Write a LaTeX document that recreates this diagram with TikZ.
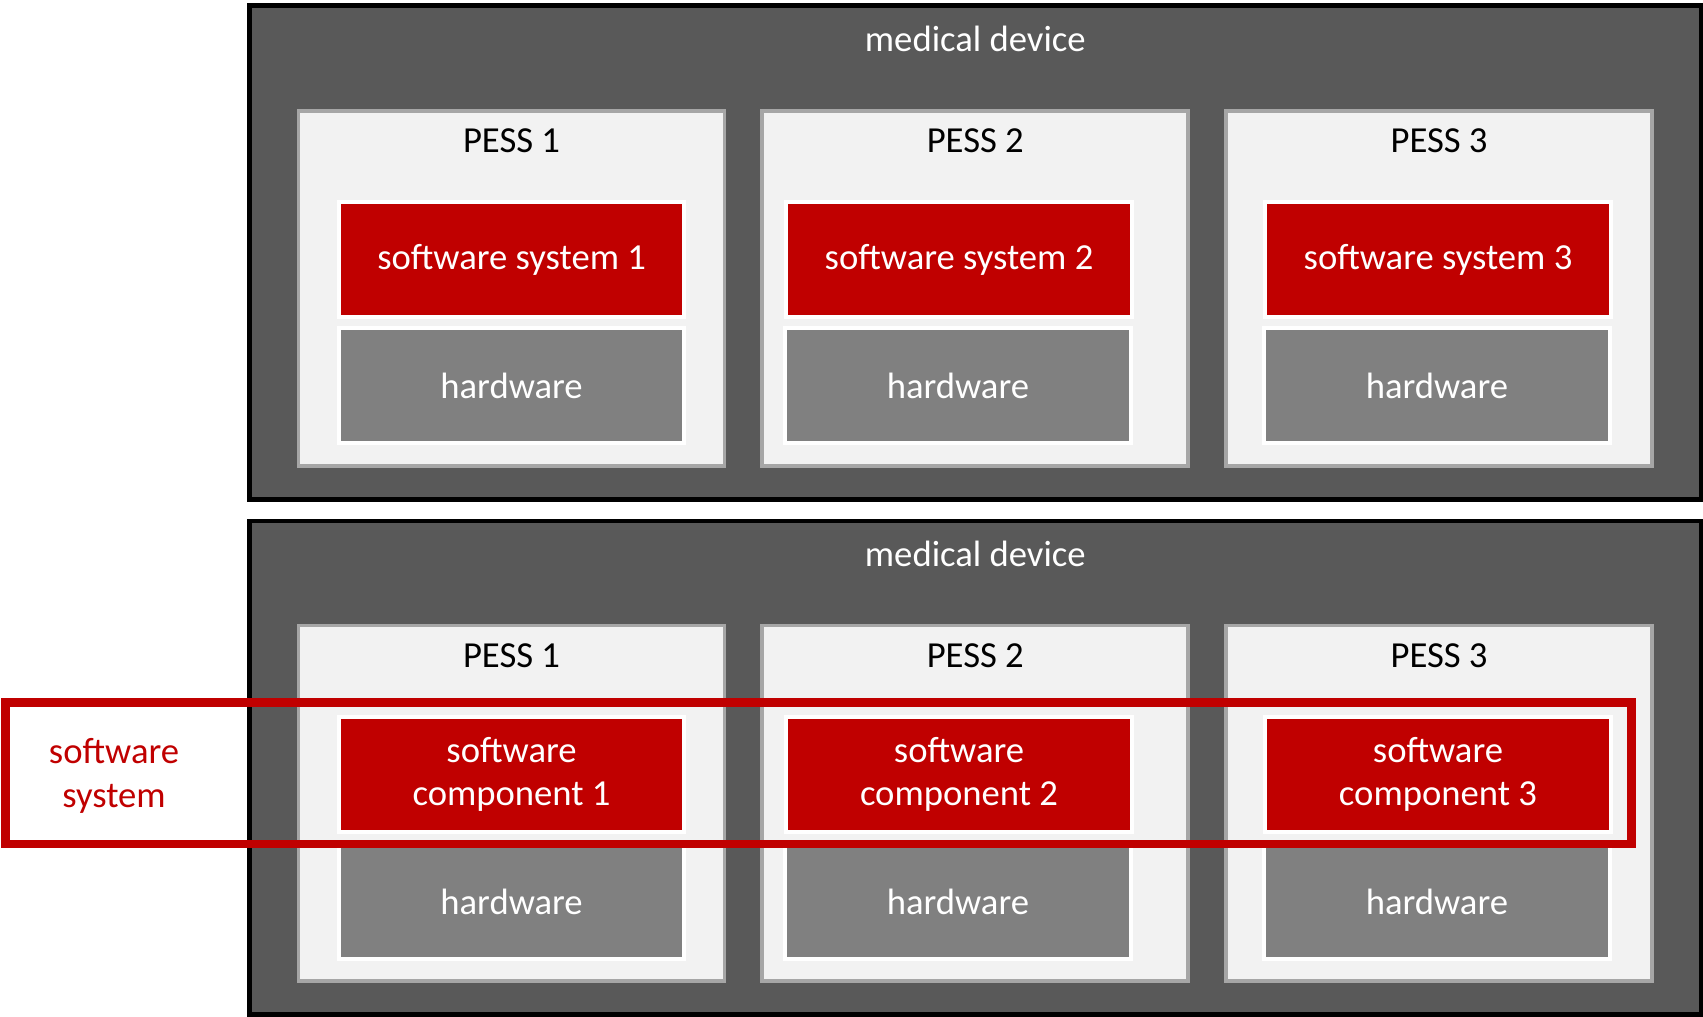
\documentclass[tikz,border=0pt]{standalone}
\usepackage{fontspec}
\setmainfont{Carlito}
\definecolor{devgray}{HTML}{595959}
\definecolor{pessgray}{HTML}{F2F2F2}
\definecolor{hwgray}{HTML}{808080}
\definecolor{swred}{HTML}{C00000}
\begin{document}
\begin{tikzpicture}[
			     x=0.01cm, y=-0.01cm,
			     font=\fontsize{9.6}{11.5}\selectfont,
			     device/.style={draw=black, line width=1.2pt, fill=devgray, minimum width=13.36cm, inner sep=0pt},
			     pess/.style={draw=black!35, line width=1pt, fill=pessgray, minimum width=3.92cm, minimum height=3.27cm, inner sep=0pt},
			     sw/.style={draw=white, line width=1pt, fill=swred, text=white, minimum width=3.18cm, minimum height=1.06cm, align=center, inner sep=0pt},
			     hw/.style={draw=white, line width=1pt, fill=hwgray, text=white, minimum width=3.18cm, minimum height=1.06cm, inner sep=0pt},
			     title/.style={inner sep=0pt}
			     ]
\useasboundingbox (0,0) rectangle (1568,936);
% upper device
\node[device, minimum height=4.55cm] (dev1) at (898,232.5) {};
\node[title, white] (dev1-t) at (898,36) {medical device};
\node[pess] (p11) at (471,265.5) {};
\node[pess] (p12) at (898,265.5) {};
\node[pess] (p13) at (1325,265.5) {};
\node[title] at (471,130) {PESS 1};
\node[title] at (898,130) {PESS 2};
\node[title] at (1325,130) {PESS 3};
\node[sw] (s11) at (471,239) {software system 1};
\node[sw] (s12) at (883,239) {software system 2};
\node[sw] (s13) at (1324,239) {software system 3};
\node[hw] (h11) at (471,355) {hardware};
\node[hw] (h12) at (882,355) {hardware};
\node[hw] (h13) at (1323,355) {hardware};
% lower device
\node[device, minimum height=4.54cm] (dev2) at (898,707) {};
\node[title, white] (dev2-t) at (898,510) {medical device};
\node[pess] (p21) at (471,739.5) {};
\node[pess] (p22) at (898,739.5) {};
\node[pess] (p23) at (1325,739.5) {};
\node[title] at (471,604) {PESS 1};
\node[title] at (898,604) {PESS 2};
\node[title] at (1325,604) {PESS 3};
\node[sw] (s21) at (471,713) {software\\component 1};
\node[sw] (s22) at (883,713) {software\\component 2};
\node[sw] (s23) at (1324,713) {software\\component 3};
\node[hw] (h21) at (471,830) {hardware};
\node[hw] (h22) at (882,830) {hardware};
\node[hw] (h23) at (1323,830) {hardware};
% software system frame
\draw[swred, line width=2.3pt] (5,647) rectangle (1502,777);
\node[title, swred, align=center] (sys) at (105,714) {software\\system};
\end{tikzpicture}
\end{document}
